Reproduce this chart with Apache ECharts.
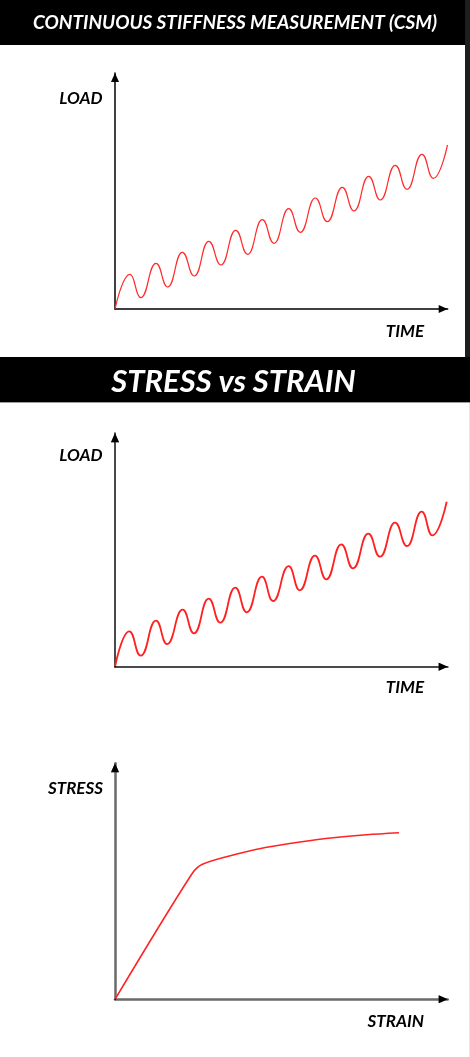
<!DOCTYPE html>
<html><head><meta charset="utf-8">
<script src="https://cdn.jsdelivr.net/npm/echarts@6/dist/echarts.min.js"></script>
<style>html,body{margin:0;padding:0;background:#fff;overflow:hidden}#c{width:470px;height:1057px}</style>
</head><body><div id="c"></div>
<script>
// ---- text ----
const titleTop = 'CONTINUOUS STIFFNESS MEASUREMENT (CSM)';
const titleMid = 'STRESS vs STRAIN';
const chart1Names = ['TIME', 'LOAD'];
const chart2Names = ['TIME', 'LOAD'];
const chart3Names = ['STRAIN', 'STRESS'];

// ---- chart 1: CSM load vs time (peaks & troughs) ----
const csmTime1 = [0, 15, 25.7, 41, 52.7, 67.3, 79.3, 93.7, 106, 120.7, 132.7, 147.3, 159, 173.7, 185.3, 200.3, 212.3, 227.3, 239, 253.7, 265.3, 280.3, 292, 307, 318.3, 332.5];
const csmLoad1 = [0, 34.7, 11.3, 45.7, 22, 56.7, 33, 67.7, 44, 78.7, 54.7, 89.3, 65.7, 100.3, 76.7, 111, 87.3, 121.7, 98, 132.7, 109, 143.7, 119.7, 154.7, 130.7, 164];

// ---- chart 2: CSM load vs time (second copy) ----
const csmTime2 = [0, 14.3, 25.7, 41, 52, 67.7, 79, 93.7, 105.3, 120.3, 131.7, 147, 158, 173.7, 184.7, 200, 211.3, 226.3, 238, 253.3, 265, 280, 292, 306.7, 317.3, 331.7];
const csmLoad2 = [0, 35.4, 11, 46, 22.7, 57, 33.4, 68, 44, 79, 54.4, 90, 65.7, 100.5, 76.4, 111, 87.4, 122.4, 98.4, 133, 110, 144, 120.7, 155, 131.4, 165];

// ---- chart 3: stress vs strain ----
const strain = [0, 77, 88, 125, 151.7, 185, 218.3, 251.7, 284];
const stress = [0, 125.6, 135.3, 146, 152, 157.3, 161.6, 164.6, 166.6];

const pairs = (xs, ys) => xs.map((x, i) => [x, ys[i]]);

const FONT = 'Lato, "Open Sans", sans-serif';
function axis(grid, max, color, width, pos, arrowOnly) {
  return {
    type: 'value', min: 0, max: max, gridIndex: grid, position: pos, z: arrowOnly ? 5 : 0,
    axisLine: { show: true, onZero: false, symbol: ['none', 'triangle'], symbolSize: [8, 9], symbolOffset: [0, -4.5],
      lineStyle: { color: color, width: width, type: arrowOnly ? [0, 100000] : 'solid' } },
    axisTick: { show: false }, axisLabel: { show: false }, splitLine: { show: false }
  };
}

const grids = [
  { left: 115, top: 73, width: 332.7, height: 236 },
  { left: 115, top: 433.3, width: 332.7, height: 233.4 },
  { left: 115, top: 763.3, width: 332.7, height: 236 }
];

function txt(x, y, s, size, color, align) {
  return { type: 'text', x: x, y: y, z: 100,
    style: { text: s, fill: color, font: 'italic bold ' + size + 'px ' + FONT, align: align, verticalAlign: 'middle' } };
}

const option = {
  animation: false,
  backgroundColor: '#ffffff',
  grid: grids,
  xAxis: [
    axis(0, 332.7, '#000000', 1.5, 'bottom'),
    axis(1, 332.7, '#4a4a4a', 2, 'bottom'),
    axis(2, 332.7, '#6a6a6a', 2.5, 'bottom'),
    axis(1, 332.7, '#000000', 1, 'bottom', true),
    axis(2, 332.7, '#000000', 1, 'bottom', true)
  ],
  yAxis: [
    axis(0, 236, '#000000', 1.5, 'left'),
    axis(1, 233.4, '#4a4a4a', 2, 'left'),
    axis(2, 236, '#6a6a6a', 2.5, 'left'),
    axis(1, 233.4, '#000000', 1, 'left', true),
    axis(2, 236, '#000000', 1, 'left', true)
  ],
  series: [
    { type: 'line', xAxisIndex: 0, yAxisIndex: 0, data: pairs(csmTime1, csmLoad1), showSymbol: false, smooth: 0.5, smoothMonotone: 'x',
      lineStyle: { color: '#ff2b2b', width: 1.2 } },
    { type: 'line', xAxisIndex: 1, yAxisIndex: 1, data: pairs(csmTime2, csmLoad2), showSymbol: false, smooth: 0.5, smoothMonotone: 'x',
      lineStyle: { color: '#ff2020', width: 1.8 } },
    { type: 'line', xAxisIndex: 2, yAxisIndex: 2, data: pairs(strain, stress), showSymbol: false, smooth: 0.3,
      lineStyle: { color: '#ff2424', width: 1.6 } }
  ],
  graphic: [
    { type: 'rect', shape: { x: 0, y: 0, width: 465, height: 45 }, style: { fill: '#000' }, z: 50 },
    { type: 'rect', shape: { x: 465, y: 0, width: 5, height: 357 }, style: { fill: '#1e1e1e' }, z: 50 },
    { type: 'rect', shape: { x: 0, y: 357, width: 470, height: 45 }, style: { fill: '#000' }, z: 50 },
    { type: 'rect', shape: { x: 0, y: 402, width: 470, height: 1 }, style: { fill: '#9c9c9c' }, z: 50 },
    { type: 'rect', shape: { x: 469, y: 403, width: 1, height: 654 }, style: { fill: '#e6e6e6' }, z: 50 },
    txt(235, 23, titleTop, 19, '#ffffff', 'center'),
    txt(233.5, 381.5, titleMid, 31, '#ffffff', 'center'),
    txt(102.5, 98.7, chart1Names[1], 17, '#000', 'right'),
    txt(424, 331.7, chart1Names[0], 17, '#000', 'right'),
    txt(102.5, 456, chart2Names[1], 17, '#000', 'right'),
    txt(424, 688, chart2Names[0], 17, '#000', 'right'),
    txt(103, 789, chart3Names[1], 17, '#000', 'right'),
    txt(424, 1022, chart3Names[0], 17, '#000', 'right')
  ]
};
const chart = echarts.init(document.getElementById('c'), null, { renderer: 'canvas' });
chart.setOption(option);
</script>
</body></html>
